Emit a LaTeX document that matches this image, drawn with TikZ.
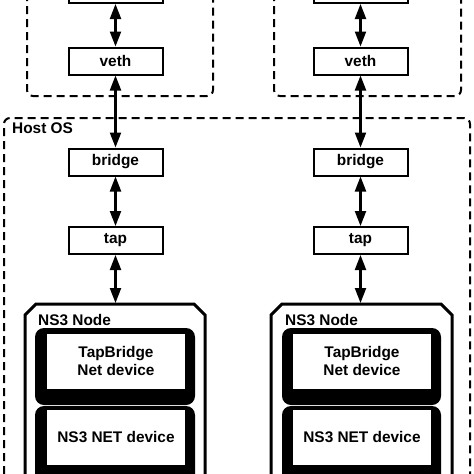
\documentclass[tikz,border=0pt]{standalone}
\usepackage{fontspec}
\setmainfont{Liberation Sans}
\usetikzlibrary{arrows.meta}
\begin{document}
\begin{tikzpicture}[x=1pt,y=-1pt,
  lbl/.style={font=\fontsize{15.4}{18.5}\selectfont\bfseries,inner sep=0pt},
  box/.style={lbl,draw,line width=2pt,fill=white,minimum width=94pt,minimum height=27pt},
  dev/.style={lbl,fill=white,align=center,minimum width=138pt,minimum height=55pt},
  link/.style={line width=2.2pt,>={Triangle[length=15pt,width=11pt]},<->},
  cont/.style={line width=2pt,dash pattern=on 8pt off 5pt,rounded corners=6pt},
  nsnode/.style={line width=3pt,line join=miter},
  blk/.style={fill=black,rounded corners=9pt}
]
\useasboundingbox (0,0) rectangle (474,474);
\fill[white] (0,0) rectangle (474,474);
\clip (0,0) rectangle (474,474);

% containers
\draw[cont] (27,-20) -- (27,96) -- (213,96) -- (213,-20);
\draw[cont] (274,-20) -- (274,96) -- (461,96) -- (461,-20);
\draw[cont] (4,500) -- (4,118) -- (470,118) -- (470,500);
\node[lbl,anchor=base west] (host) at (12,133) {Host OS};

% left column
\node[box] (topL) at (115.5,-10.5) {};
\node[box] (vethL) at (115.5,61) {veth};
\node[box] (bridgeL) at (115.5,162) {bridge};
\node[box] (tapL) at (115.5,240.5) {tap};
\draw[nsnode] (25,500) -- (25,315) -- (36,304) -- (194,304) -- (205,315) -- (205,500);
\coordinate (nsL) at (115.5,303);
\node[lbl,anchor=base west] (nslabL) at (38,325) {NS3 Node};
\fill[blk] (35,328) rectangle (195,405);
\fill[blk] (35,406) rectangle (195,490);
\node[dev] (tbL) at (116,361) {TapBridge\\Net device};
\node[dev] (netL) at (116,437.5) {NS3 NET device};

% right column
\node[box] (topR) at (360.5,-10.5) {};
\node[box] (vethR) at (360.5,61) {veth};
\node[box] (bridgeR) at (360.5,162) {bridge};
\node[box] (tapR) at (360.5,240.5) {tap};
\draw[nsnode] (271,500) -- (271,315) -- (282,304) -- (441,304) -- (452,315) -- (452,500);
\coordinate (nsR) at (360.5,303);
\node[lbl,anchor=base west] (nslabR) at (285,325) {NS3 Node};
\fill[blk] (282,328) rectangle (441,405);
\fill[blk] (282,406) rectangle (441,490);
\node[dev] (tbR) at (362,361) {TapBridge\\Net device};
\node[dev] (netR) at (362,437.5) {NS3 NET device};

% links
\draw[link] (topL) -- (vethL);
\draw[link] (vethL) -- (bridgeL);
\draw[link] (bridgeL) -- (tapL);
\draw[link] (tapL) -- (nsL);
\draw[link] (topR) -- (vethR);
\draw[link] (vethR) -- (bridgeR);
\draw[link] (bridgeR) -- (tapR);
\draw[link] (tapR) -- (nsR);
\end{tikzpicture}
\end{document}
